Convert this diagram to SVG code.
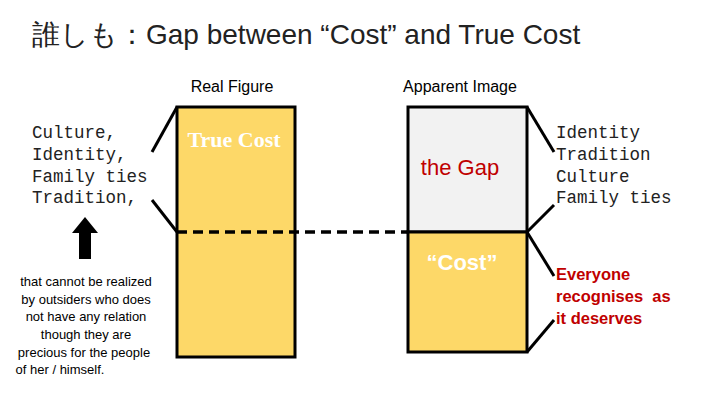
<svg xmlns="http://www.w3.org/2000/svg" width="720" height="405" viewBox="0 0 720 405">
<style>
.mono{font-family:"Liberation Mono","DejaVu Sans Mono",monospace;font-size:17.5px;fill:#222}
.sans{font-family:"Liberation Sans",Arial,sans-serif}
.box{stroke:#000;stroke-width:3}
.br{stroke:#000;stroke-width:3;fill:none}
</style>
<rect width="720" height="405" fill="#fff"/>
<text x="32" y="44" class="sans" font-size="28" fill="#222">誰しも：Gap between “Cost” and True Cost</text>
<text x="232" y="92" class="sans" font-size="16" text-anchor="middle">Real Figure</text>
<text x="460" y="92" class="sans" font-size="16" text-anchor="middle">Apparent Image</text>
<g id="real">
<rect x="177" y="107" width="118" height="250" fill="#fdd868" class="box"/>
<text x="234" y="147" font-size="22" font-weight="bold" fill="#fff" text-anchor="middle" font-family="Liberation Serif,serif">True Cost</text>
</g>
<g id="apparent">
<rect x="408" y="107" width="119" height="125" fill="#f2f2f2" class="box"/>
<rect x="408" y="232" width="119" height="120" fill="#fdd868" class="box"/>
<text x="460" y="175" class="sans" font-size="22" fill="#c00000" text-anchor="middle">the Gap</text>
<text x="462" y="270" class="sans" font-size="22" font-weight="bold" fill="#fff" text-anchor="middle">“Cost”</text>
</g>
<g id="leftText">
<text class="mono"><tspan x="32" y="138">Culture,</tspan><tspan x="32" y="160">Identity,</tspan><tspan x="32" y="182">Family ties</tspan><tspan x="32" y="203">Tradition,</tspan></text>
<text class="sans" font-size="13" text-anchor="middle"><tspan x="86" y="286">that cannot be realized</tspan><tspan x="86" y="304">by outsiders who does</tspan><tspan x="86" y="321">not have any relation</tspan><tspan x="86" y="339">though they are</tspan><tspan x="84" y="357">precious for the people</tspan><tspan x="60" y="374">of her / himself.</tspan></text>
</g>
<g id="rightText">
<text class="mono"><tspan x="556" y="138">Identity</tspan><tspan x="556" y="160">Tradition</tspan><tspan x="556" y="182">Culture</tspan><tspan x="556" y="203">Family ties</tspan></text>
<text class="sans" font-size="16.5" font-weight="bold" fill="#c00000" xml:space="preserve"><tspan x="556" y="280">Everyone</tspan><tspan x="556" y="302">recognises  as</tspan><tspan x="556" y="324">it deserves</tspan></text>
</g>
<g id="connectors">
<polyline class="br" points="152,152 177,107"/>
<polyline class="br" points="152,200 177,232"/>
<polyline class="br" points="527,107 554,152"/>
<polyline class="br" points="554,205 527,232"/>
<polyline class="br" points="527,232 554,276"/>
<polyline class="br" points="554,320 527,352"/>
<line x1="177" y1="232" x2="408" y2="232" stroke="#000" stroke-width="3.5" stroke-dasharray="10,6"/>
<polygon points="85,217 98,233 91,233 91,259 79,259 79,233 72,233" fill="#000"/>
</g>
</svg>
